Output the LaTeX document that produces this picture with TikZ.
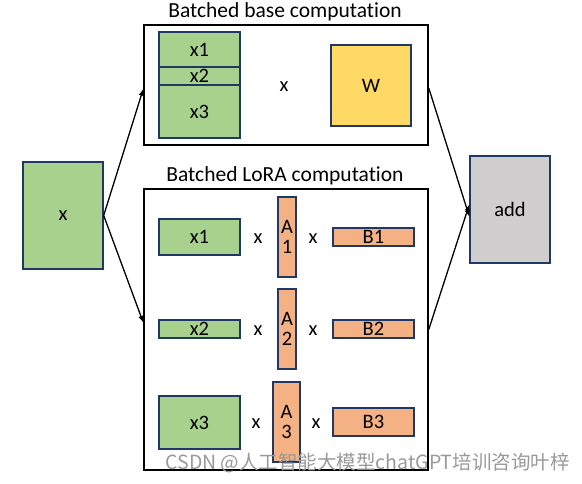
\documentclass[tikz,border=0pt]{standalone}
\usepackage{fontspec}
\setmainfont{Carlito}[Ligatures={NoCommon,NoContextual,NoRare}]
\newfontfamily\cjk{Noto Sans CJK SC}
\usepackage{tikz}

\definecolor{matgreen}{HTML}{A9D18E}
\definecolor{matorange}{HTML}{F4B183}
\definecolor{matyellow}{HTML}{FFD966}
\definecolor{matgray}{HTML}{D0CECE}
\definecolor{matedge}{HTML}{203864}

\tikzset{
	mat/.style={draw=matedge, line width=1.4pt, inner sep=0pt, font=\fontsize{20.5}{20}\selectfont},
	frame/.style={draw=black, line width=1.5pt, inner sep=0pt},
	title/.style={font=\fontsize{21.5}{22}\selectfont},
	times/.style={font=\fontsize{20.5}{20}\selectfont},
	flow/.style={-latex, line width=1.3pt}
}

\begin{document}
\begin{tikzpicture}[x=1pt, y=-1pt]
	\path[use as bounding box] (0,0) rectangle (582,483);

	% input and output
	\node[mat, fill=matgreen, minimum width=80, minimum height=107] (xin) at (63,215.5) {x};
	\node[mat, fill=matgray, minimum width=80, minimum height=107] (add) at (510,209.5) {add};

	% batched base computation
	\node[title] (basetitle) at (285,12) {Batched base computation};
	\node[frame, minimum width=284, minimum height=120] (base) at (286,85) {};
	\node[mat, fill=matgreen, minimum width=81, minimum height=35] (bx1) at (199.5,49.5) {x1};
	\node[mat, fill=matgreen, minimum width=81, minimum height=18] (bx2) at (199.5,76) {x2};
	\node[mat, fill=matgreen, minimum width=81, minimum height=53] (bx3) at (199.5,111.5) {x3};
	\node[times] (btimes) at (284,87) {x};
	\node[mat, fill=matyellow, minimum width=80, minimum height=81] (w) at (371,85.5) {W};

	% batched LoRA computation
	\node[title] (loratitle) at (285,176) {Batched LoRA computation};
	\node[frame, minimum width=284, minimum height=281] (lora) at (286,329.5) {};

	\node[mat, fill=matgreen, minimum width=81, minimum height=36] (lx1) at (199.5,237) {x1};
	\node[times] (lt1a) at (258,239) {x};
	\node[mat, fill=matorange, minimum width=18, minimum height=80, align=center] (la1) at (287,237) {A\\1};
	\node[times] (lt1b) at (313,239) {x};
	\node[mat, fill=matorange, minimum width=81, minimum height=18] (lb1) at (373.5,237) {B1};

	\node[mat, fill=matgreen, minimum width=81, minimum height=18] (lx2) at (199.5,329) {x2};
	\node[times] (lt2a) at (258,331) {x};
	\node[mat, fill=matorange, minimum width=18, minimum height=80, align=center] (la2) at (287,329) {A\\2};
	\node[times] (lt2b) at (313,331) {x};
	\node[mat, fill=matorange, minimum width=81, minimum height=18] (lb2) at (373.5,329) {B2};

	\node[mat, fill=matgreen, minimum width=81, minimum height=53] (lx3) at (199.5,422.5) {x3};
	\node[times] (lt3a) at (256,424) {x};
	\node[mat, fill=matorange, minimum width=27, minimum height=80, align=center] (la3) at (286.5,422) {A\\3};
	\node[times] (lt3b) at (316,424) {x};
	\node[mat, fill=matorange, minimum width=81, minimum height=28] (lb3) at (373.5,422) {B3};

	% connectors
	\draw[flow] (xin.east) -- ([yshift=-4]base.west);
	\draw[flow] (xin.east) -- ([yshift=7]lora.west);
	\draw[flow] ([yshift=-3]base.east) -- ([yshift=-7]add.west);
	\draw[flow] (lora.east) -- ([yshift=5]add.west);

	% watermark
	\node[anchor=west, text=black!40, font=\cjk\fontsize{19.5}{20}\selectfont] (mark) at (162,463) {CSDN @人工智能大模型chatGPT培训咨询叶梓};

\end{tikzpicture}
\end{document}
